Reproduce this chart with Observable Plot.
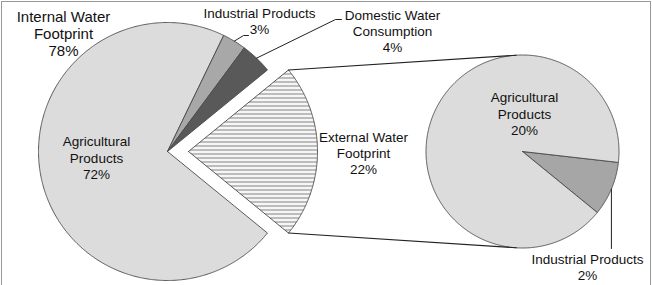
<!DOCTYPE html>
<html>
<head>
<meta charset="utf-8">
<script src="https://cdn.jsdelivr.net/npm/d3@7"></script>
<script src="https://cdn.jsdelivr.net/npm/@observablehq/plot@0.6"></script>
<style>
  html, body { margin: 0; padding: 0; background: #fff; }
  #chart svg { display: block; }
</style>
</head>
<body>
<div id="chart"></div>
<script>
// ---- data (clockwise from the exploded slice) ----
const mainLabels = ["External Water\nFootprint", "Agricultural\nProducts", "Industrial Products", "Domestic Water\nConsumption"];
const mainValues = [22, 72, 3, 4];
const mainFills = ["url(#hatch)", "#dcdcdc", "#a8a8a8", "#595959"];
const subLabels = ["Industrial Products", "Agricultural\nProducts"];
const subValues = [2, 20];
const subFills = ["#a6a6a6", "#dcdcdc"];
const internalLabel = "Internal Water\nFootprint";
const internalValue = 78;

// ---- layout ----
const W = 652, H = 285;
const L = {cx: 167, cy: 151, r: 129, explode: 21};
const R = {cx: 522, cy: 151, r: 96.5};
const deg = Math.PI / 180;

const mainTotal = d3.sum(mainValues);
const mainPie = d3.pie().sort(null).value(d => d)
  .startAngle(Math.PI / 2 - Math.PI * mainValues[0] / mainTotal)
  .endAngle(Math.PI / 2 - Math.PI * mainValues[0] / mainTotal + 2 * Math.PI)(mainValues);
const subPie = d3.pie().sort(null).value(d => d)
  .startAngle(96.5 * deg).endAngle(96.5 * deg + 2 * Math.PI)(subValues);

function pt(cx, cy, r, a) { return [cx + r * Math.sin(a), cy - r * Math.cos(a)]; }
function slicePts(cx, cy, r, a0, a1, id) {
  const n = Math.max(2, Math.ceil((a1 - a0) / (0.5 * deg)));
  const pts = [{id, x: cx, y: cy}];
  for (let i = 0; i <= n; i++) {
    const [x, y] = pt(cx, cy, r, a0 + (a1 - a0) * i / n);
    pts.push({id, x, y});
  }
  pts.push({id, x: cx, y: cy});
  return pts;
}

const marks = [];
// main pie slices
mainPie.forEach((s, i) => {
  const mid = (s.startAngle + s.endAngle) / 2;
  const off = i === 0 ? L.explode : 0;
  const cx = L.cx + off * Math.sin(mid), cy = L.cy - off * Math.cos(mid);
  marks.push(Plot.line(slicePts(cx, cy, L.r, s.startAngle, s.endAngle, "m" + i),
    {x: "x", y: "y", fill: mainFills[i], stroke: "#4a4a4a", strokeWidth: 0.9}));
});
// sub pie slices
subPie.forEach((s, i) => {
  marks.push(Plot.line(slicePts(R.cx, R.cy, R.r, s.startAngle, s.endAngle, "s" + i),
    {x: "x", y: "y", fill: subFills[i], stroke: "#4a4a4a", strokeWidth: 0.9}));
});

// connector lines: exploded slice corners to tangent points on the sub pie
const ext = mainPie[0];
const extMid = (ext.startAngle + ext.endAngle) / 2;
const ax = L.cx + L.explode * Math.sin(extMid), ay = L.cy - L.explode * Math.cos(extMid);
function tangent(P, upper) {
  const dx = P[0] - R.cx, dy = P[1] - R.cy;
  const d = Math.hypot(dx, dy);
  const phi = Math.atan2(dy, dx);
  const alpha = Math.acos(R.r / d);
  const t = upper ? phi + alpha : phi - alpha;
  return [R.cx + R.r * Math.cos(t), R.cy + R.r * Math.sin(t)];
}
const topCorner = pt(ax, ay, L.r, ext.startAngle);
const botCorner = pt(ax, ay, L.r, ext.endAngle);
const topT = tangent(topCorner, true);
const botT = tangent(botCorner, false);
const connectors = [
  {id: "t", x: topCorner[0], y: topCorner[1]}, {id: "t", x: topT[0], y: topT[1]},
  {id: "b", x: botCorner[0], y: botCorner[1]}, {id: "b", x: botT[0], y: botT[1]}
];
marks.push(Plot.line(connectors, {x: "x", y: "y", z: "id", stroke: "#222", strokeWidth: 1.1}));

// leader lines
const indMid = (mainPie[2].startAngle + mainPie[2].endAngle) / 2;
const domMid = (mainPie[3].startAngle + mainPie[3].endAngle) / 2;
const subIndMid = (subPie[0].startAngle + subPie[0].endAngle) / 2;
const p1 = pt(L.cx, L.cy, L.r, indMid);
const p2 = pt(L.cx, L.cy, L.r, domMid);
const p3 = pt(R.cx, R.cy, R.r, subIndMid);
const leaders = [
  {id: "i", x: p1[0], y: p1[1]}, {id: "i", x: 243, y: 35}, {id: "i", x: 248, y: 35},
  {id: "d", x: p2[0], y: p2[1]}, {id: "d", x: 335, y: 19}, {id: "d", x: 341, y: 19},
  {id: "s", x: p3[0], y: p3[1]}, {id: "s", x: p3[0], y: 248}
];
marks.push(Plot.line(leaders, {x: "x", y: "y", z: "id", stroke: "#222", strokeWidth: 1}));

// labels
const labelPos = {
  m0: [363, 152.5], m1: [96, 157], m2: [259, 20], m3: [392, 30.5],
  s0: [587, 266.5], s1: [524, 113], internal: [63, 33]
};
const labels = [];
mainLabels.forEach((t, i) => labels.push({x: labelPos["m" + i][0], y: labelPos["m" + i][1], text: t + "\n" + mainValues[i] + "%"}));
subLabels.forEach((t, i) => labels.push({x: labelPos["s" + i][0], y: labelPos["s" + i][1], text: t + "\n" + subValues[i] + "%"}));
marks.push(Plot.text(labels, {x: "x", y: "y", text: "text", fontSize: 13.5, lineHeight: 1.2, fill: "#111"}));
marks.push(Plot.text([{x: labelPos.internal[0], y: labelPos.internal[1], text: internalLabel + "\n" + internalValue + "%"}],
  {x: "x", y: "y", text: "text", fontSize: 15, lineHeight: 1.15, fill: "#111"}));

marks.push(Plot.frame({stroke: "#999", insetLeft: 1, insetTop: 1, insetRight: 2, insetBottom: -4}));

const chart = Plot.plot({
  width: W, height: H,
  margin: 0,
  x: {domain: [0, W], range: [0, W], axis: null},
  y: {domain: [0, H], range: [0, H], axis: null},
  style: {fontFamily: "'Liberation Sans', Arial, sans-serif", background: "#fff"},
  marks
});

// hatch pattern definition
const ns = "http://www.w3.org/2000/svg";
const defs = document.createElementNS(ns, "defs");
const pat = document.createElementNS(ns, "pattern");
pat.setAttribute("id", "hatch");
pat.setAttribute("width", "8");
pat.setAttribute("height", "4");
pat.setAttribute("patternUnits", "userSpaceOnUse");
const bg = document.createElementNS(ns, "rect");
bg.setAttribute("width", "8"); bg.setAttribute("height", "4"); bg.setAttribute("fill", "#fff");
const ln = document.createElementNS(ns, "line");
ln.setAttribute("x1", "0"); ln.setAttribute("x2", "8");
ln.setAttribute("y1", "1.5"); ln.setAttribute("y2", "1.5");
ln.setAttribute("stroke", "#8c8c8c"); ln.setAttribute("stroke-width", "1.3");
pat.appendChild(bg); pat.appendChild(ln); defs.appendChild(pat);
chart.insertBefore(defs, chart.firstChild);

document.getElementById("chart").appendChild(chart);
</script>
</body>
</html>
